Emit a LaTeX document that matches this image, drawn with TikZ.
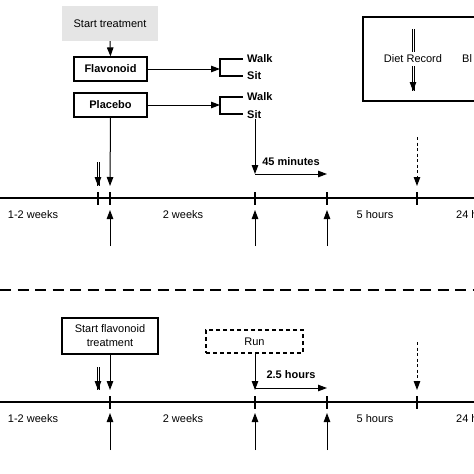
\documentclass[tikz,border=0pt]{standalone}
\usepackage{fontspec}
\setmainfont{Liberation Sans}
\usetikzlibrary{arrows.meta}
\tikzset{
  lbl/.style={font=\fontsize{11}{14}\selectfont, inner sep=0pt},
  bld/.style={font=\bfseries\fontsize{11}{12}\selectfont, inner sep=0pt},
  boxa/.style={draw, line width=1.2pt, minimum width=73pt, minimum height=24pt, inner sep=0pt, font=\bfseries\fontsize{11}{12}\selectfont},
  arr/.style={line width=1pt, -{Triangle[length=9pt,width=6.5pt]}},
  tipo/.style={line width=1pt, -{Triangle[length=9pt,width=6.5pt]}},
  dline/.style={line width=0.8pt},
  dsharr/.style={line width=1pt, dash pattern=on 3pt off 2.5pt, -{Triangle[length=9pt,width=6.5pt]}},
  tline/.style={line width=1.4pt},
  tick/.style={line width=1.2pt},
  brk/.style={line width=1.2pt},
}
\begin{document}
\begin{tikzpicture}[x=1pt,y=-1pt]
\useasboundingbox (0,0) rectangle (474,474);
\clip (0,0) rectangle (474,474);

% ---------- top panel ----------
\node[fill=black!10, minimum width=96pt, minimum height=35pt, lbl] (st) at (110,23.5) {Start treatment};
\node[boxa] (fla) at (110.5,69) {Flavonoid};
\node[boxa] (pla) at (110.5,105) {Placebo};
\draw[arr] (st.south) -- (fla.north);

% brackets
\coordinate (b1) at (220,69);
\coordinate (b2) at (220,105);
\node[bld, anchor=west] (walk1) at (247,58.5) {Walk};
\node[bld, anchor=west] (sit1) at (247,75.5) {Sit};
\node[bld, anchor=west] (walk2) at (247,96.5) {Walk};
\node[bld, anchor=west] (sit2) at (247,114.5) {Sit};
\draw[arr] (fla.east) -- (b1);
\draw[arr] (pla.east) -- (b2);
\draw[brk] (243,59) -- (220,59) -- (220,76) -- (243,76);
\draw[brk] (243,97) -- (220,97) -- (220,114) -- (243,114);

% diet record box
\draw[line width=1.2pt] (363,17) rectangle (520,101);
\node[lbl] (diet) at (413,58.5) {Diet Record};
\node[lbl, anchor=west] (blood) at (462,58.5) {Bl};
\coordinate (dr1) at (413,29);
\coordinate (dr2) at (413,52);
\coordinate (dr3) at (413,66);
\coordinate (dr4) at (413,91);
\draw[dline] ([xshift=-1.1pt]dr1) -- ([xshift=-1.1pt]dr2);
\draw[dline] ([xshift=1.1pt]dr1) -- ([xshift=1.1pt]dr2);
\draw[dline] ([xshift=-1.1pt]dr3) -- ([xshift=-1.1pt]dr4);
\draw[dline] ([xshift=1.1pt]dr3) -- ([xshift=1.1pt]dr4);
\draw[tipo] ([yshift=1pt]dr4) -- (dr4);

% timeline 1
\coordinate (t1l) at (0,198);
\coordinate (t1r) at (474,198);
\draw[tline] (t1l) -- (t1r);
\foreach \x in {98,110,255,327,417} \draw[tick] (\x,192) -- (\x,205);

\coordinate (d1s) at (98,162);
\coordinate (d1e) at (98,186);
\draw[dline] ([xshift=-1.1pt]d1s) -- ([xshift=-1.1pt]d1e);
\draw[dline] ([xshift=1.1pt]d1s) -- ([xshift=1.1pt]d1e);
\draw[tipo] ([yshift=1pt]d1e) -- (d1e);
\coordinate (p1e) at (110,186);
\draw[arr] (pla.south) -- (p1e);

\coordinate (s2e) at (255,174);
\coordinate (m45) at (327,174);
\draw[arr] (sit2.south -| s2e) -- (s2e);
\draw[arr] (s2e) -- (m45);
\node[bld] (min45) at (291,162) {45 minutes};

\coordinate (q1s) at (417,137);
\coordinate (q1e) at (417,186);
\draw[dsharr] (q1s) -- (q1e);

\node[lbl] (w12a) at (33,214.5) {1-2 weeks};
\node[lbl] (w2a) at (183,214.5) {2 weeks};
\node[lbl] (h5a) at (375,214.5) {5 hours};
\node[lbl, anchor=west] (h24a) at (456,214.5) {24 h};

\foreach \x/\n in {110/ua,255/ub,327/uc} {
  \coordinate (\n s) at (\x,246);
  \coordinate (\n e) at (\x,210);
  \draw[arr] (\n s) -- (\n e);
}

% separator
\coordinate (sepl) at (0,290);
\coordinate (sepr) at (474,290);
\draw[line width=1.2pt, dash pattern=on 11pt off 6.5pt] (sepl) -- (sepr);

% ---------- bottom panel ----------
\node[draw, line width=1.2pt, minimum width=96pt, minimum height=36pt, inner sep=0pt, align=center, lbl] (sf) at (110,336) {Start flavonoid\\treatment};
\node[draw, line width=1.2pt, dash pattern=on 4pt off 3pt, minimum width=97pt, minimum height=23pt, inner sep=0pt, lbl] (run) at (254.5,341.5) {Run};

\coordinate (t2l) at (0,402);
\coordinate (t2r) at (474,402);
\draw[tline] (t2l) -- (t2r);
\foreach \x in {110,255,327,417} \draw[tick] (\x,396) -- (\x,409);

\coordinate (d2s) at (98,367);
\coordinate (d2e) at (98,390);
\draw[dline] ([xshift=-1.1pt]d2s) -- ([xshift=-1.1pt]d2e);
\draw[dline] ([xshift=1.1pt]d2s) -- ([xshift=1.1pt]d2e);
\draw[tipo] ([yshift=1pt]d2e) -- (d2e);
\coordinate (f2e) at (110,390);
\draw[arr] (sf.south) -- (f2e);

\coordinate (r2e) at (255,390);
\coordinate (r2h) at (255,388);
\coordinate (h25) at (327,388);
\draw[arr] (run.south -| r2e) -- (r2e);
\draw[arr] (r2h) -- (h25);
\node[bld] (hr25) at (291,375) {2.5 hours};

\coordinate (q2s) at (417,342);
\coordinate (q2e) at (417,390);
\draw[dsharr] (q2s) -- (q2e);

\node[lbl] (w12b) at (33,418.5) {1-2 weeks};
\node[lbl] (w2b) at (183,418.5) {2 weeks};
\node[lbl] (h5b) at (375,418.5) {5 hours};
\node[lbl, anchor=west] (h24b) at (456,418.5) {24 h};

\foreach \x/\n in {110/va,255/vb,327/vc} {
  \coordinate (\n s) at (\x,450);
  \coordinate (\n e) at (\x,413);
  \draw[arr] (\n s) -- (\n e);
}
\end{tikzpicture}
\end{document}
